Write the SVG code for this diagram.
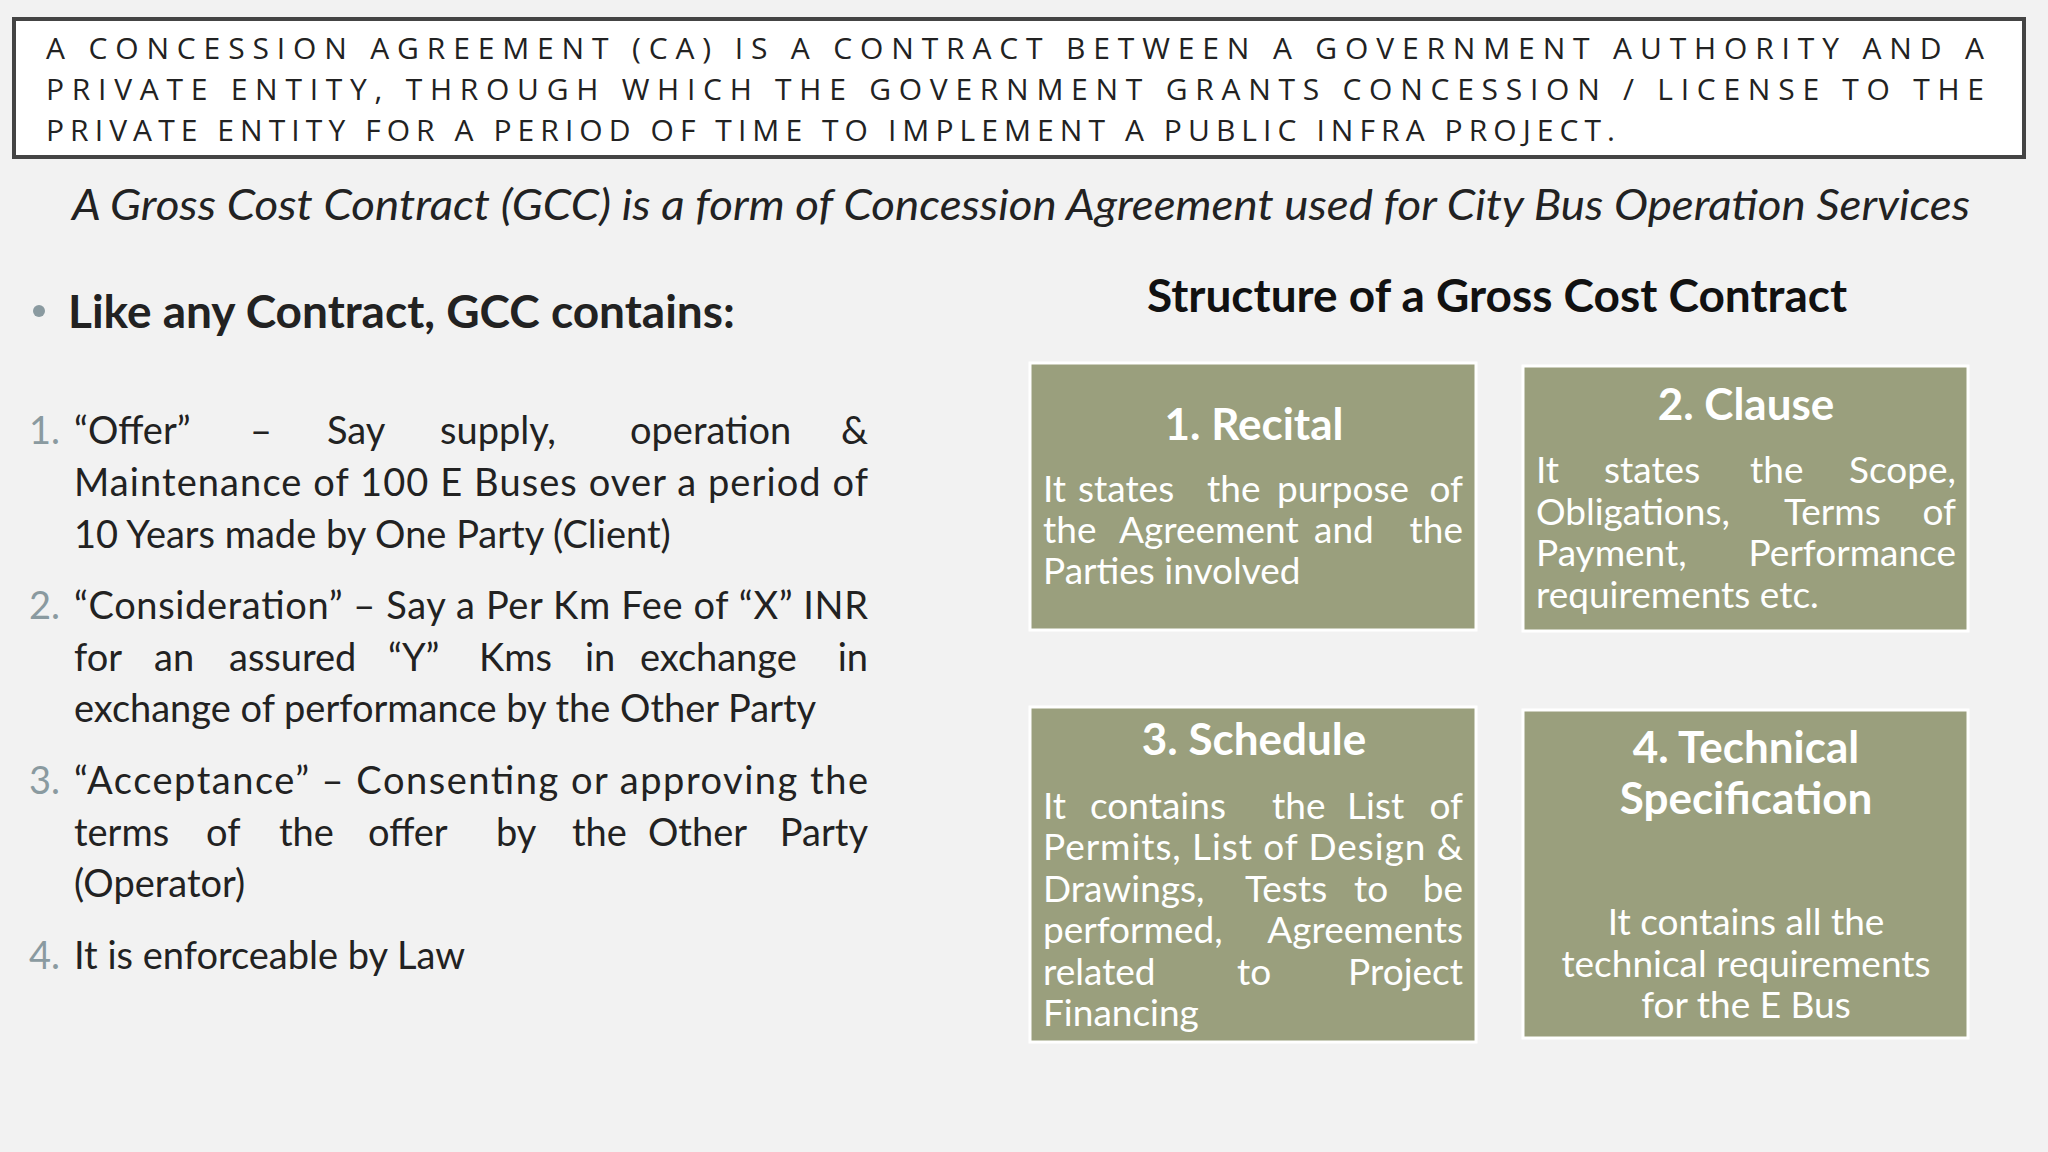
<svg xmlns="http://www.w3.org/2000/svg" width="2048" height="1152" viewBox="0 0 2048 1152">
<style>
.cap{font-family:"Open Sans",sans-serif;font-size:30px;fill:#222;letter-spacing:4px}
.b{font-family:Lato,"Open Sans",sans-serif;font-size:38px;fill:#222}
.n{font-family:Lato,sans-serif;font-size:38px;fill:#8a9aa0}
.box{fill:#9a9f7d;stroke:#fff;stroke-width:3}
.bt{font-family:Lato,sans-serif;font-size:44px;font-weight:bold;fill:#fff;text-anchor:middle}
.bb{font-family:Lato,sans-serif;font-size:37px;fill:#fff}
.bc{font-family:Lato,sans-serif;font-size:37px;fill:#fff;text-anchor:middle}
.e{text-anchor:end}
</style>
<rect width="2048" height="1152" fill="#f2f2f2"/>
<g id="header">
<rect x="14" y="19" width="2010" height="138" fill="#fff" stroke="#444" stroke-width="4"/>
<text class="cap" x="46" y="59" textLength="1942" lengthAdjust="spacing">A CONCESSION AGREEMENT (CA) IS A CONTRACT BETWEEN A GOVERNMENT AUTHORITY AND A</text>
<text class="cap" x="46" y="100" textLength="1942" lengthAdjust="spacing">PRIVATE ENTITY, THROUGH WHICH THE GOVERNMENT GRANTS CONCESSION / LICENSE TO THE</text>
<text class="cap" x="46" y="141" textLength="1573" lengthAdjust="spacing">PRIVATE ENTITY FOR A PERIOD OF TIME TO IMPLEMENT A PUBLIC INFRA PROJECT.</text>
</g>
<text x="72" y="220" font-family="Lato,sans-serif" font-style="italic" font-size="42" fill="#222" textLength="1898" lengthAdjust="spacingAndGlyphs">A Gross Cost Contract (GCC) is a form of Concession Agreement used for City Bus Operation Services</text>
<g id="list">
<circle cx="39" cy="311" r="6" fill="#8a9aa0"/>
<text x="68" y="328" font-family="Lato,sans-serif" font-size="46" font-weight="bold" fill="#222">Like any Contract, GCC contains:</text>
<text class="n" x="29" y="444">1.</text>
<text class="b" y="444"><tspan x="74">“Offer”</tspan><tspan x="250">–</tspan><tspan x="327">Say</tspan><tspan x="440">supply,</tspan><tspan x="630">operation</tspan></text>
<text class="b e" x="868" y="444">&amp;</text>
<text class="b" x="74" y="496" textLength="794" lengthAdjust="spacing">Maintenance of 100 E Buses over a period of</text>
<text class="b" x="74" y="548">10 Years made by One Party (Client)</text>
<text class="n" x="29" y="619">2.</text>
<text class="b" x="74" y="619" textLength="794" lengthAdjust="spacing">“Consideration” – Say a Per Km Fee of “X” INR</text>
<text class="b" y="671"><tspan x="74">for</tspan><tspan x="154">an</tspan><tspan x="229">assured</tspan><tspan x="388">“Y”</tspan><tspan x="479">Kms</tspan><tspan x="585">in</tspan><tspan x="640">exchange</tspan></text>
<text class="b e" x="868" y="671">in</text>
<text class="b" x="74" y="722">exchange of performance by the Other Party</text>
<text class="n" x="29" y="794">3.</text>
<text class="b" x="74" y="794" textLength="794" lengthAdjust="spacing">“Acceptance” – Consenting or approving the</text>
<text class="b" y="846"><tspan x="74">terms</tspan><tspan x="206">of</tspan><tspan x="279">the</tspan><tspan x="368">offer</tspan><tspan x="496">by</tspan><tspan x="572">the</tspan><tspan x="648">Other</tspan></text>
<text class="b e" x="868" y="846">Party</text>
<text class="b" x="74" y="897">(Operator)</text>
<text class="n" x="29" y="969">4.</text>
<text class="b" x="74" y="969">It is enforceable by Law</text>
</g>
<text x="1497" y="312" font-family="Lato,sans-serif" font-size="46" font-weight="bold" fill="#111" text-anchor="middle">Structure of a Gross Cost Contract</text>
<g id="recital">
<rect class="box" x="1030" y="363" width="446" height="267"/>
<text class="bt" x="1254" y="440">1. Recital</text>
<text class="bb" y="502"><tspan x="1043">It</tspan><tspan x="1078">states</tspan><tspan x="1207">the</tspan><tspan x="1277">purpose</tspan></text>
<text class="bb e" x="1463" y="502">of</text>
<text class="bb" y="543"><tspan x="1043">the</tspan><tspan x="1119">Agreement</tspan><tspan x="1314">and</tspan></text>
<text class="bb e" x="1463" y="543">the</text>
<text class="bb" x="1043" y="584">Parties involved</text>
</g>
<g id="clause">
<rect class="box" x="1523" y="366" width="445" height="265"/>
<text class="bt" x="1746" y="420">2. Clause</text>
<text class="bb" y="483"><tspan x="1536">It</tspan><tspan x="1604">states</tspan><tspan x="1750">the</tspan></text>
<text class="bb e" x="1956" y="483">Scope,</text>
<text class="bb" x="1536" y="525">Obligations,</text><text class="bb" x="1784" y="525">Terms</text>
<text class="bb e" x="1956" y="525">of</text>
<text class="bb" x="1536" y="566">Payment,</text>
<text class="bb e" x="1956" y="566">Performance</text>
<text class="bb" x="1536" y="608">requirements etc.</text>
</g>
<g id="schedule">
<rect class="box" x="1030" y="707" width="446" height="335"/>
<text class="bt" x="1254" y="755">3. Schedule</text>
<text class="bb" y="819"><tspan x="1043">It</tspan><tspan x="1090">contains</tspan><tspan x="1272">the</tspan><tspan x="1347">List</tspan></text>
<text class="bb e" x="1463" y="819">of</text>
<text class="bb" x="1043" y="860" textLength="420" lengthAdjust="spacing">Permits, List of Design &amp;</text>
<text class="bb" y="902"><tspan x="1043">Drawings,</tspan><tspan x="1245">Tests</tspan><tspan x="1354">to</tspan></text>
<text class="bb e" x="1463" y="902">be</text>
<text class="bb" x="1043" y="943">performed,</text>
<text class="bb e" x="1463" y="943">Agreements</text>
<text class="bb" y="985"><tspan x="1043">related</tspan><tspan x="1237">to</tspan></text>
<text class="bb e" x="1463" y="985">Project</text>
<text class="bb" x="1043" y="1026">Financing</text>
</g>
<g id="techspec">
<rect class="box" x="1523" y="710" width="445" height="328"/>
<text class="bt" x="1746" y="763">4. Technical</text>
<text class="bt" x="1746" y="814">Specification</text>
<text class="bc" x="1746" y="935">It contains all the</text>
<text class="bc" x="1746" y="977">technical requirements</text>
<text class="bc" x="1746" y="1018">for the E Bus</text>
</g>
<g id="connectors"/>
</svg>
